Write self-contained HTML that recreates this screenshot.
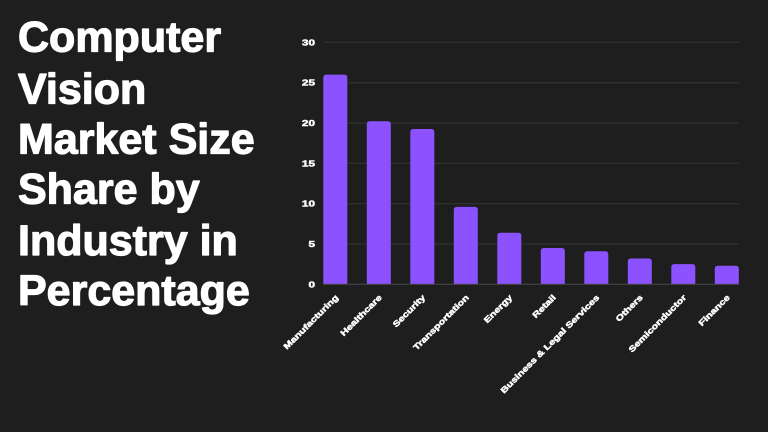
<!DOCTYPE html>
<html><head><meta charset="utf-8"><style>
html,body{margin:0;padding:0;background:#1e1e1e;}
svg{display:block;}
</style></head><body>
<svg width="768" height="432" viewBox="0 0 768 432" xmlns="http://www.w3.org/2000/svg">
<rect width="768" height="432" fill="#1e1e1e"/>
<g font-family="Liberation Sans, Arial, sans-serif" font-weight="bold" fill="#ffffff" stroke="#ffffff" stroke-width="1.2" stroke-linejoin="round" font-size="43">
<text x="18" y="51.7">Computer</text>
<text x="18" y="103.3">Vision</text>
<text x="18" y="153.3">Market Size</text>
<text x="18" y="203.3">Share by</text>
<text x="18" y="255">Industry in</text>
<text x="18" y="305">Percentage</text>
</g>
<g stroke="#353535" stroke-width="1">
<line x1="323" y1="42.3" x2="739" y2="42.3"/>
<line x1="323" y1="82.7" x2="739" y2="82.7"/>
<line x1="323" y1="123" x2="739" y2="123"/>
<line x1="323" y1="163.3" x2="739" y2="163.3"/>
<line x1="323" y1="203.7" x2="739" y2="203.7"/>
<line x1="323" y1="244" x2="739" y2="244"/>
</g>
<g font-family="Liberation Sans, Arial, sans-serif" font-weight="bold" fill="#ffffff" stroke="#ffffff" stroke-width="0.45" font-size="8.4" text-anchor="end">
<text transform="translate(315,45.3) scale(1.4,1)">30</text>
<text transform="translate(315,85.7) scale(1.4,1)">25</text>
<text transform="translate(315,126) scale(1.4,1)">20</text>
<text transform="translate(315,166.3) scale(1.4,1)">15</text>
<text transform="translate(315,206.7) scale(1.4,1)">10</text>
<text transform="translate(315,247) scale(1.4,1)">5</text>
<text transform="translate(315,287.3) scale(1.4,1)">0</text>
</g>
<g fill="#8c52ff">
<path d="M323.3,284.3 V77.6 Q323.3,74.6 326.3,74.6 H344.3 Q347.3,74.6 347.3,77.6 V284.3 Z"/>
<path d="M366.8,284.3 V124.3 Q366.8,121.3 369.8,121.3 H387.8 Q390.8,121.3 390.8,124.3 V284.3 Z"/>
<path d="M410.3,284.3 V132 Q410.3,129 413.3,129 H431.3 Q434.3,129 434.3,132 V284.3 Z"/>
<path d="M453.8,284.3 V209.9 Q453.8,206.9 456.8,206.9 H474.8 Q477.8,206.9 477.8,209.9 V284.3 Z"/>
<path d="M497.3,284.3 V235.7 Q497.3,232.7 500.3,232.7 H518.3 Q521.3,232.7 521.3,235.7 V284.3 Z"/>
<path d="M540.8,284.3 V251 Q540.8,248 543.8,248 H561.8 Q564.8,248 564.8,251 V284.3 Z"/>
<path d="M584.3,284.3 V254.2 Q584.3,251.2 587.3,251.2 H605.3 Q608.3,251.2 608.3,254.2 V284.3 Z"/>
<path d="M627.8,284.3 V261.5 Q627.8,258.5 630.8,258.5 H648.8 Q651.8,258.5 651.8,261.5 V284.3 Z"/>
<path d="M671.3,284.3 V267.1 Q671.3,264.1 674.3,264.1 H692.3 Q695.3,264.1 695.3,267.1 V284.3 Z"/>
<path d="M714.8,284.3 V268.7 Q714.8,265.7 717.8,265.7 H735.8 Q738.8,265.7 738.8,268.7 V284.3 Z"/>
</g>
<line x1="323" y1="284.3" x2="739" y2="284.3" stroke="#4a4a4a" stroke-width="1"/>
<g font-family="Liberation Sans, Arial, sans-serif" font-weight="bold" fill="#ffffff" stroke="#ffffff" stroke-width="0.5" font-size="8.2" text-anchor="end">
<text transform="translate(338.8,298) rotate(-45) scale(1.3,1)">Manufacturing</text>
<text transform="translate(382.3,298) rotate(-45) scale(1.3,1)">Healthcare</text>
<text transform="translate(425.8,298) rotate(-45) scale(1.3,1)">Security</text>
<text transform="translate(469.3,298) rotate(-45) scale(1.3,1)">Transportation</text>
<text transform="translate(512.8,298) rotate(-45) scale(1.3,1)">Energy</text>
<text transform="translate(556.3,298) rotate(-45) scale(1.3,1)">Retail</text>
<text transform="translate(599.8,298) rotate(-45) scale(1.3,1)">Business &amp; Legal Services</text>
<text transform="translate(643.3,298) rotate(-45) scale(1.3,1)">Others</text>
<text transform="translate(686.8,298) rotate(-45) scale(1.3,1)">Semiconductor</text>
<text transform="translate(730.3,298) rotate(-45) scale(1.3,1)">Finance</text>
</g>
</svg>
</body></html>
